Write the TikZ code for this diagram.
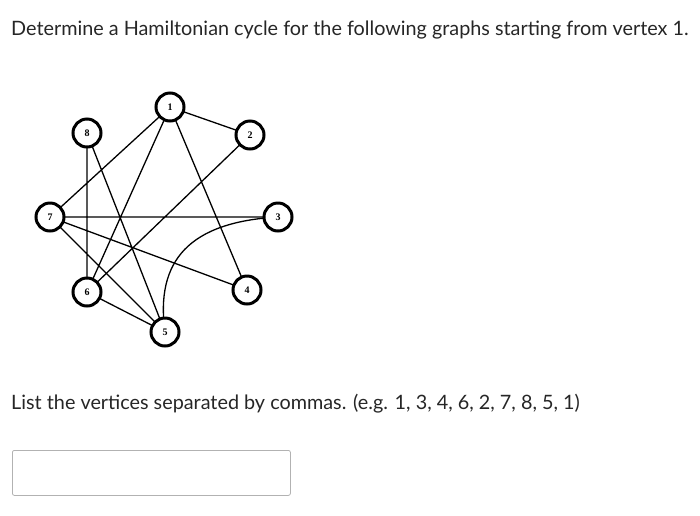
\documentclass[tikz,border=0pt]{standalone}
\usepackage{fontspec}
\setmainfont{Lato}
\newfontfamily\numfont{Liberation Serif}
\begin{document}
\begin{tikzpicture}[x=1pt,y=-1pt,
  vtx/.style={circle,draw,line width=3pt,minimum size=28pt,inner sep=0pt,fill=white,font=\numfont\bfseries\fontsize{10}{11}\selectfont},
  edge/.style={line width=1.3pt},
  txt/.style={anchor=west,inner sep=0pt,font=\fontsize{19.8}{23}\selectfont,text=black!85}]
\useasboundingbox (0,0) rectangle (700,515);
\node[txt] (t1) at (11,30) {Determine a Hamiltonian cycle for the following graphs starting from vertex 1.};
\node[txt] (t2) at (11,404) {List the vertices separated by commas. (e.g. 1, 3, 4, 6, 2, 7, 8, 5, 1)};
\node[draw=black!30,line width=0.8pt,rounded corners=2pt,minimum width=278pt,minimum height=45pt,anchor=north west] (box) at (12,450) {};
\coordinate (p1) at (170,107);
\coordinate (p2) at (250,135);
\coordinate (p8) at (87,133);
\coordinate (p7) at (50,217);
\coordinate (p3) at (278,217);
\coordinate (p4) at (247,290);
\coordinate (p6) at (87,292);
\coordinate (p5) at (165,332);
\draw[edge] (p1)--(p2) (p1)--(p7) (p1)--(p6) (p1)--(p4) (p2)--(p6) (p8)--(p6) (p8)--(p5)
  (p7)--(p3) (p7)--(p4) (p7)--(p5) (p6)--(p5);
\draw[edge] (p3) .. controls (190,222) and (155,260) .. (p5);
\node[vtx] (n1) at (p1) {1};
\node[vtx] (n2) at (p2) {2};
\node[vtx] (n8) at (p8) {8};
\node[vtx] (n7) at (p7) {7};
\node[vtx] (n3) at (p3) {3};
\node[vtx] (n4) at (p4) {4};
\node[vtx] (n6) at (p6) {6};
\node[vtx] (n5) at (p5) {5};
\end{tikzpicture}
\end{document}
